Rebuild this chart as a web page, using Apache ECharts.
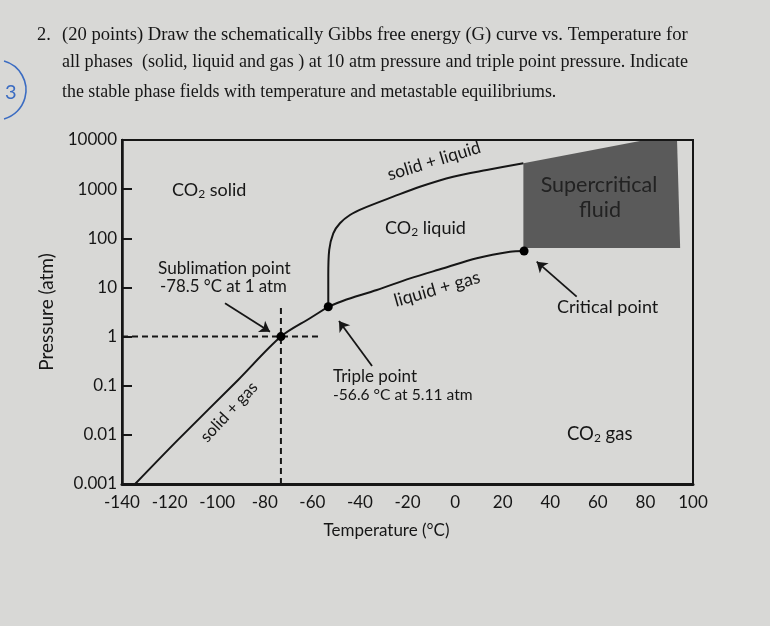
<!DOCTYPE html>
<html>
<head>
<meta charset="utf-8">
<script src="https://cdn.jsdelivr.net/npm/echarts@6/dist/echarts.min.js"></script>
<style>
html,body{margin:0;padding:0;background:#d8d8d6;}
#chart{width:770px;height:626px;}
</style>
</head>
<body>
<div id="chart"></div>
<script>
// ---- data ----
const xTicks = [-140, -120, -100, -80, -60, -40, -20, 0, 20, 40, 60, 80, 100];
const yTickLabels = ['0.001', '0.01', '0.1', '1', '10', '100', '1000', '10000'];
// [temperature °C, pressure atm]
const solidGas = [[-134.5, 0.001], [-116.5, 0.0079], [-91.2, 0.131], [-73.2, 1.0], [-61.0, 2.36], [-53.3, 4.05]];
const solidLiquid = [[-53.3, 4.05], [-53.3, 16.6], [-52.9, 57.8], [-51.2, 126], [-48.4, 202], [-44.2, 298], [-38.6, 407], [-26.0, 703], [-14.8, 1122], [-0.8, 1795], [13.3, 2455], [28.7, 3360]];
const liquidGas = [[-53.3, 4.05], [-47.0, 5.37], [-32.9, 8.87], [-18.9, 15.3], [-4.9, 24.5], [9.1, 39.2], [23.1, 53.3], [29.0, 55.2]];
const supercritical = [[28.7, 3360], [77.7, 9500], [93.3, 9500], [94.6, 63.5], [28.7, 63.5]];
const keyPoints = [[-73.2, 1], [-53.3, 4.05], [29.0, 55.2]];
const guideH = [[-140, 1], [-56, 1]];
const guideV = [[-73.2, 0.001], [-73.2, 4.2]];
const arrows = [
  [[-96.7, 4.75], [-77.8, 1.26]],
  [[-34.9, 0.252], [-48.8, 2.07]],
  [[51.1, 6.49], [34.3, 33.4]]
];
const titleLines = [
  '(20 points) Draw the schematically Gibbs free energy (G) curve vs. Temperature for',
  'all phases  (solid, liquid and gas ) at 10 atm pressure and triple point pressure. Indicate',
  'the stable phase fields with temperature and metastable equilibriums.'
];

const chart = echarts.init(document.getElementById('chart'));
const INK = '#161616';
const SANS = 'Lato, "Noto Sans", sans-serif';
const SERIF = '"Liberation Serif", "DejaVu Serif", serif';
const rad = d => d * Math.PI / 180;
const rich = {
  sub: { fontSize: 12, fontFamily: SANS, fill: INK, padding: [9, 0, 0, 0] }
};
function txt(text, x, y, opts) {
  opts = opts || {};
  return {
    type: 'text', x: x, y: y, rotation: opts.rot ? rad(opts.rot) : 0, z: 100,
    style: {
      text: text, fill: opts.fill || INK,
      fontSize: opts.size || 17, fontFamily: opts.font || SANS,
      align: opts.align || 'left', verticalAlign: 'middle',
      rich: rich
    }
  };
}

const graphics = [
  txt('2.', 37, 35, { font: SERIF, size: 18.4 }),
  txt(titleLines[0], 62, 35, { font: SERIF, size: 18.6 }),
  txt(titleLines[1], 62, 62, { font: SERIF, size: 18.1 }),
  txt(titleLines[2], 62, 92, { font: SERIF, size: 17.9 }),
  { type: 'arc', shape: { cx: -4, cy: 90, r: 30, startAngle: -1.3, endAngle: 1.3 }, style: { fill: 'none', stroke: '#3b6cc2', lineWidth: 1.6 } },
  txt('3', 5, 93, { fill: '#3b6cc2', size: 20, font: SANS }),
  txt('CO{sub|2} solid', 172, 190, { size: 18 }),
  txt('Sublimation point', 158, 268, { size: 17.2 }),
  txt('-78.5 °C at 1 atm', 160, 287, { size: 16.8 }),
  txt('solid + liquid', 434, 161, { align: 'center', rot: 17, size: 17.5 }),
  txt('CO{sub|2} liquid', 385, 228, { size: 18 }),
  txt('Supercritical', 599, 185, { align: 'center', size: 21.5, fill: '#222' }),
  txt('fluid', 600, 210, { align: 'center', size: 21.5, fill: '#222' }),
  txt('liquid + gas', 437, 289, { align: 'center', rot: 16, size: 18 }),
  txt('Critical point', 557, 307, { size: 18 }),
  txt('Triple point', 333, 377, { size: 17 }),
  txt('-56.6 °C at 5.11 atm', 333, 395, { size: 15.6 }),
  txt('solid + gas', 229, 412, { align: 'center', rot: 47, size: 16.5 }),
  txt('CO{sub|2} gas', 567, 434, { size: 18.5 })
];

function lineSeries(data, extra) {
  return Object.assign({
    type: 'line', data: data, showSymbol: false, silent: true,
    lineStyle: { color: INK, width: 2 }, z: 5
  }, extra || {});
}

chart.setOption({
  backgroundColor: '#d8d8d6',
  animation: false,
  grid: { left: 122, right: 77, top: 140, bottom: 142, show: true, borderColor: INK, borderWidth: 2, backgroundColor: 'transparent' },
  graphic: graphics,
  xAxis: {
    type: 'value', min: xTicks[0], max: xTicks[xTicks.length - 1], interval: xTicks[1] - xTicks[0],
    name: 'Temperature (°C)', nameLocation: 'middle', nameGap: 38,
    nameTextStyle: { color: INK, fontSize: 17, fontFamily: SANS, padding: [0, 42, 0, 0] },
    axisLine: { show: true, onZero: false, lineStyle: { color: INK, width: 3 } },
    axisTick: { show: false },
    splitLine: { show: false },
    axisLabel: { color: INK, fontSize: 17, fontFamily: SANS, margin: 10, showMinLabel: true, showMaxLabel: true }
  },
  yAxis: {
    type: 'log', logBase: 10, min: Number(yTickLabels[0]), max: Number(yTickLabels[yTickLabels.length - 1]),
    name: 'Pressure (atm)', nameLocation: 'middle', nameGap: 64,
    nameTextStyle: { color: INK, fontSize: 19, fontFamily: SANS },
    axisLine: { show: true, onZero: false, lineStyle: { color: INK, width: 2.5 } },
    axisTick: { show: true, inside: true, length: 10, lineStyle: { color: INK, width: 2 } },
    splitLine: { show: false },
    axisLabel: {
      color: INK, fontSize: 17, fontFamily: SANS, margin: 5,
      formatter: function (v) {
        for (const s of yTickLabels) { if (Math.abs(Math.log10(Number(s)) - Math.log10(v)) < 1e-6) return s; }
        return '';
      }
    }
  },
  series: [
    {
      type: 'custom', data: supercritical, silent: true, z: 2,
      renderItem: function (params, api) {
        if (params.dataIndex !== 0) return null;
        return {
          type: 'polygon',
          shape: { points: supercritical.map(p => api.coord(p)) },
          style: { fill: '#5a5a5a' }
        };
      }
    },
    lineSeries(solidGas, { smooth: 0.3 }),
    lineSeries(solidLiquid, { smooth: 0.3 }),
    lineSeries(liquidGas, { smooth: 0.3 }),
    lineSeries(guideH, { lineStyle: { color: INK, width: 2, type: [6, 4] } }),
    lineSeries(guideV, { lineStyle: { color: INK, width: 2, type: [6, 4] } }),
    {
      type: 'lines', coordinateSystem: 'cartesian2d', silent: true, z: 6,
      data: arrows.map(a => ({ coords: a })),
      symbol: ['none', 'arrow'], symbolSize: 10,
      lineStyle: { color: INK, width: 1.8, opacity: 1 }
    },
    {
      type: 'scatter', data: keyPoints, symbol: 'circle', symbolSize: 9, silent: true, z: 10,
      itemStyle: { color: '#000', opacity: 1 }
    }
  ]
});
</script>
</body>
</html>
